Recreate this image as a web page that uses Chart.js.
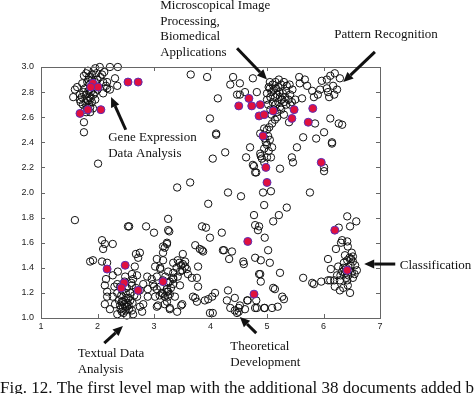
<!DOCTYPE html>
<html>
<head>
<meta charset="utf-8">
<script src="https://cdn.jsdelivr.net/npm/chart.js@4/dist/chart.umd.min.js"></script>
<style>
  html, body { margin: 0; padding: 0; background: #fff; }
  canvas { display: block; }
</style>
</head>
<body>
<canvas id="map" width="474" height="394"></canvas>
<script>
// documents of the first level map as [x, y]
const geneDocs = [
  [1.69,2.78],[1.76,2.93],[1.83,2.97],[1.96,2.99],[2.04,3.00],[2.22,3.00],[2.36,3.00],[2.31,2.91],
  [2.35,2.85],[2.22,2.82],[2.10,2.79],[1.96,2.74],[1.87,2.68],[1.78,2.66],[1.76,2.56],[1.76,2.48],
  [2.01,2.23],[1.57,2.76],[1.60,2.82],[1.64,2.84],[1.73,2.87],[2.17,2.88],[2.08,2.94],[2.17,2.83],
  [1.74,2.70],[1.69,2.74],
  [1.80,2.95],[1.85,2.92],[1.90,2.94],[1.93,2.97],[1.98,2.95],[1.82,2.88],[1.86,2.86],[1.78,2.83],
  [1.84,2.81],[1.80,2.78],[1.86,2.76],[1.83,2.73],[1.79,2.71],[1.85,2.70],[1.90,2.72],[1.88,2.80],
  [1.92,2.84],[1.95,2.88],[1.90,2.90],[1.75,2.80],[1.72,2.76],[1.82,2.68],[1.87,2.64],[1.80,2.64],
  [1.93,2.78],[2.00,2.90],[2.05,2.92],[2.12,2.96],[2.15,2.85],[2.10,2.88],[2.00,2.82],[1.96,2.80],
  [1.70,2.72],[1.92,2.67],[1.84,2.90],[1.88,2.75],[1.81,2.74],[1.86,2.82]
];
const imageDocs = [
  [4.75,2.91],[5.21,2.90],[5.57,2.92],[5.67,2.90],[5.58,2.87],[5.05,2.83],[5.00,2.79],[5.14,2.76],
  [5.23,2.76],[5.30,2.72],[5.41,2.78],[5.41,2.70],[5.23,2.68],[5.30,2.62],[5.18,2.60],[5.39,2.56],
  [5.09,2.55],[5.04,2.52],[5.34,2.81],[5.16,2.83],[5.50,2.74],[5.62,2.75],[5.71,2.85],[5.80,2.81],
  [4.52,2.87],[4.61,2.80],[4.82,2.80],[4.40,2.92],[4.35,2.86],[4.47,2.78],[4.52,2.78],[4.13,2.75],
  [3.65,2.94],[3.94,2.92],[3.99,2.59],[4.10,2.47],[4.10,2.46],
  [5.05,2.88],[5.10,2.86],[5.15,2.88],[5.20,2.84],[5.25,2.86],[5.30,2.88],[5.35,2.85],[5.08,2.80],
  [5.12,2.82],[5.18,2.78],[5.22,2.80],[5.28,2.79],[5.32,2.76],[5.38,2.74],[5.06,2.76],[5.10,2.72],
  [5.15,2.70],[5.20,2.72],[5.26,2.74],[5.34,2.70],[5.12,2.66],[5.18,2.64],[5.25,2.66],[5.08,2.62],
  [5.14,2.58],[5.45,2.82],[5.40,2.86],[5.03,2.84],[5.02,2.70],[5.06,2.66],[5.44,2.72],[5.00,2.74],
  [5.00,2.50],[4.95,2.51],[4.88,2.47],[4.96,2.43],[5.05,2.42],[5.00,2.38],[5.09,2.36],[4.95,2.35],
  [4.88,2.31],[5.00,2.28],[4.91,2.27],[4.95,2.24],[4.75,2.22],[4.79,2.16],[4.63,2.28],[4.70,2.36],
  [4.89,2.29],[5.07,2.28],[5.23,2.19],[5.44,2.28],[5.46,2.24],[5.53,2.36],[4.77,2.21],[4.81,2.16],
  [5.02,2.45],[4.98,2.40],[5.03,2.33]
];
const patternDocs = [
  [6.20,2.95],[6.12,2.93],[6.06,2.90],[5.97,2.89],[6.24,2.82],[6.19,2.78],[6.10,2.76],[6.06,2.83],
  [5.83,2.76],[5.94,2.82],[6.12,2.59],[6.27,2.55],[6.33,2.54],[5.85,2.55],[6.01,2.48],[5.87,2.43],
  [5.64,2.44],[6.15,2.40],[6.15,2.39],[6.01,2.20],[6.01,2.17],[5.76,2.00],[5.90,2.78],[6.17,2.85],
  [6.08,2.80],[6.29,2.91]
];
const middleDocs = [
  [4.04,2.27],[4.26,2.32],[3.41,2.04],[3.64,2.08],[4.31,2.00],[4.54,1.97],[4.93,2.00],[5.07,2.01],
  [3.96,1.91],[4.77,1.82],[5.11,1.77],[5.21,1.82],[5.35,1.88],[4.95,1.90],[1.60,1.78],[3.25,1.79],
  [2.56,1.73],[2.86,1.73],[3.25,1.70],[3.85,1.73],[3.92,1.72],[4.86,1.73],[3.99,1.64],[4.20,1.68],
  [4.96,1.64],[5.02,1.54],[4.79,1.74],[3.00,1.68],[3.27,1.69],[4.84,1.70],[4.79,1.48],[4.89,1.46],
  [5.05,1.44],[4.59,1.43],[4.88,1.35],[4.89,1.29],[5.23,1.36],[5.14,1.23],[5.27,1.17],[5.30,1.15],
  [4.81,1.14],[4.66,1.14],[4.82,1.08],[4.95,1.08],[5.19,1.09],[4.50,1.08],[4.50,1.05],[4.61,1.07],
  [3.51,1.51],[3.73,1.58],[3.85,1.54],[3.87,1.53],[4.22,1.54],[4.38,1.53],[4.33,1.47],[4.58,1.45],
  [4.86,1.35],[3.78,1.41],[3.67,1.32],[3.76,1.32],[3.78,1.25],[3.73,1.16],[3.76,1.13],[3.90,1.14],
  [3.96,1.15],[4.03,1.17],[4.08,1.20],[4.04,1.04],[4.31,1.22],[4.29,1.14],[4.43,1.16],[4.35,1.08],
  [4.43,1.06],[4.47,1.04],[4.65,1.14],[4.79,1.08],[4.96,1.08],[5.09,1.08],[4.52,1.10],[5.11,1.24],
  [3.69,1.17],[3.99,1.04],[4.24,1.54]
];
const textDocs = [
  [2.08,1.62],[2.13,1.59],[2.10,1.55],[2.27,1.59],[1.87,1.45],[1.92,1.46],[2.08,1.45],[2.17,1.44],
  [2.54,1.73],[3.16,1.57],[3.16,1.52],[3.23,1.59],[3.34,1.44],[3.34,1.36],[3.55,1.41],[3.60,1.35],
  [3.81,1.55],[2.68,1.51],[2.72,1.48],[2.75,1.52],[2.66,1.41],[2.61,1.35],[3.05,1.47],[3.02,1.41],
  [3.11,1.39],[3.16,1.46],[2.88,1.33],[2.96,1.31],[3.05,1.33],[3.25,1.37],[3.34,1.31],[3.34,1.27],
  [3.42,1.33],[3.46,1.37],[3.51,1.43],[3.58,1.39],[3.16,1.19],[3.23,1.21],[3.25,1.17],[3.19,1.11],
  [3.28,1.07],[3.41,1.05],[3.50,1.11],[3.07,1.10],[3.02,1.17],[2.89,1.17],[2.81,1.11],[2.79,1.05],
  [2.63,1.03],[2.52,1.02],[2.43,1.05],[2.35,1.03],[2.22,1.07],[2.13,1.11],[2.17,1.17],[2.17,1.21],
  [2.13,1.26],[2.15,1.31],[2.27,1.34],[2.35,1.27],[2.27,1.17],[2.31,1.11],[2.45,1.13],[2.58,1.14],
  [2.70,1.17],[2.75,1.22],[2.81,1.27],[2.61,1.26],[2.63,1.31],[2.49,1.33],[2.36,1.37],[2.70,1.34],
  [2.52,1.09],[2.61,1.06],[2.75,1.09],[2.89,1.23],[2.98,1.27],[3.11,1.25],[3.23,1.23],[3.16,1.30],
  [3.28,1.19],[3.37,1.17],[3.46,1.26],
  [2.40,1.10],[2.45,1.08],[2.50,1.06],[2.55,1.10],[2.48,1.14],[2.42,1.18],[2.50,1.20],[2.55,1.16],
  [2.38,1.14],[2.44,1.22],[2.52,1.24],[2.58,1.20],[2.46,1.04],[2.53,1.12],[2.40,1.25],[2.60,1.28],
  [2.35,1.20],[2.65,1.18],[2.62,1.12],[2.30,1.25],[2.48,1.29],[2.68,1.24],[2.47,1.11],[2.51,1.16],
  [2.43,1.13],[2.56,1.07],[2.49,1.09],[2.41,1.07],
  [3.40,1.40],[3.45,1.44],[3.48,1.42],[3.50,1.38],[3.42,1.46],[3.55,1.45],[3.30,1.24],[3.25,1.28],
  [3.20,1.33],[3.05,1.23],[3.10,1.18],[3.00,1.25],
  [3.23,1.60],[3.19,1.56],[3.11,1.40],[3.14,1.20],[3.19,1.17],[3.25,1.21],[3.23,1.13],[3.28,1.08],
  [3.48,1.10],[3.05,1.09],[3.34,1.32],[3.28,1.29]
];
const classDocs = [
  [6.42,1.81],[6.58,1.77],[6.47,1.73],[6.27,1.72],[6.33,1.62],[6.31,1.60],[6.42,1.61],[6.43,1.57],
  [6.22,1.55],[6.50,1.52],[6.52,1.49],[6.49,1.47],[6.08,1.47],[6.56,1.42],[6.59,1.38],[6.13,1.39],
  [6.26,1.41],[6.33,1.37],[6.24,1.34],[6.12,1.30],[6.19,1.30],[6.29,1.30],[6.42,1.30],[6.52,1.32],
  [6.20,1.25],[6.35,1.24],[6.43,1.26],[6.47,1.20],[6.29,1.22],[5.64,1.32],[5.80,1.28],[5.83,1.27],
  [5.96,1.29],[6.08,1.30],
  [6.40,1.40],[6.45,1.38],[6.38,1.36],[6.48,1.42],[6.36,1.44],[6.44,1.34],[6.50,1.36],[6.42,1.46],
  [6.35,1.40],[6.46,1.48],[6.30,1.34],[6.55,1.35],[6.40,1.32],[6.52,1.45],[6.38,1.50]
];
// the added documents (filled red)
const addedDocs = [
  [1.69,2.63],[1.83,2.66],[2.06,2.66],[2.54,2.88],[2.72,2.88],[1.92,2.87],[2.01,2.84],[1.88,2.84],
  [4.50,2.69],[4.68,2.75],[4.73,2.69],[4.88,2.70],[4.86,2.61],[4.95,2.62],[5.11,2.65],[5.48,2.66],
  [5.44,2.59],[5.81,2.67],[5.73,2.56],[4.93,2.45],[4.98,2.20],[5.00,2.08],[5.96,2.24],
  [2.17,1.39],[2.49,1.42],[2.47,1.28],[2.42,1.24],[2.72,1.22],[3.16,1.29],
  [4.66,1.61],[4.77,1.19],
  [6.20,1.70],[6.42,1.38]
];
const xTicks = [1, 2, 3, 4, 5, 6, 7];
const yTicks = [1, 1.2, 1.4, 1.6, 1.8, 2, 2.2, 2.4, 2.6, 2.8, 3];

// callouts, placed in data units
const callouts = [
  { lines: ['Microscopical Image', 'Processing,', 'Biomedical', 'Applications'], x: 3.11, y: 3.486, tail: [4.47, 3.15], head: [5.00, 2.90] },
  { lines: ['Pattern Recognition'], x: 6.19, y: 3.255, tail: [6.91, 3.12], head: [6.35, 2.88] },
  { lines: ['Gene Expression', 'Data Analysis'], x: 2.19, y: 2.434, tail: [2.50, 2.50], head: [2.24, 2.76] },
  { lines: ['Textual Data', 'Analysis'], x: 1.65, y: 0.713, tail: [2.12, 0.80], head: [2.45, 0.936] },
  { lines: ['Theoretical', 'Development'], x: 4.35, y: 0.769, tail: [4.81, 0.88], head: [4.52, 1.008] },
  { lines: ['Classification'], x: 7.35, y: 1.414, tail: [7.27, 1.43], head: [6.72, 1.43] }
];
const caption = 'Fig. 12. The first level map with the additional 38 documents added by';

const toPoints = arr => arr.map(p => ({ x: p[0], y: p[1] }));
const openDocs = [].concat(geneDocs, imageDocs, patternDocs, middleDocs, textDocs, classDocs);
const tickFont = { family: '"Liberation Sans Narrow", "Liberation Sans", Arial', size: 9 };

const framePlugin = {
  id: 'frame',
  afterDatasetsDraw(chart) {
    const { ctx, chartArea: a, scales: { x, y } } = chart;
    ctx.save();
    ctx.strokeStyle = '#666';
    ctx.lineWidth = 1;
    ctx.strokeRect(a.left + 0.5, a.top + 0.5, a.right - a.left, a.bottom - a.top);
    ctx.beginPath();
    xTicks.forEach(v => {
      const px = Math.round(x.getPixelForValue(v)) + 0.5;
      ctx.moveTo(px, a.bottom); ctx.lineTo(px, a.bottom - 4);
      ctx.moveTo(px, a.top); ctx.lineTo(px, a.top + 4);
    });
    yTicks.forEach(v => {
      const py = Math.round(y.getPixelForValue(v)) + 0.5;
      ctx.moveTo(a.left, py); ctx.lineTo(a.left + 4, py);
      ctx.moveTo(a.right, py); ctx.lineTo(a.right - 4, py);
    });
    ctx.stroke();
    ctx.restore();
  },
  afterDraw(chart) {
    const { ctx, scales: { x, y } } = chart;
    ctx.save();
    ctx.fillStyle = '#111';
    ctx.strokeStyle = '#111';
    ctx.font = '13px "Liberation Serif", "Times New Roman", serif';
    ctx.textBaseline = 'middle';
    ctx.textAlign = 'left';
    callouts.forEach(c => {
      const tx = x.getPixelForValue(c.x), ty = y.getPixelForValue(c.y);
      c.lines.forEach((t, i) => ctx.fillText(t, tx, ty + i * 15.5));
      const x0 = x.getPixelForValue(c.tail[0]), y0 = y.getPixelForValue(c.tail[1]);
      const x1 = x.getPixelForValue(c.head[0]), y1 = y.getPixelForValue(c.head[1]);
      const ang = Math.atan2(y1 - y0, x1 - x0);
      const len = 10, half = 4.5;
      const bx = x1 - len * Math.cos(ang), by = y1 - len * Math.sin(ang);
      ctx.lineWidth = 3;
      ctx.beginPath(); ctx.moveTo(x0, y0); ctx.lineTo(bx, by); ctx.stroke();
      ctx.beginPath();
      ctx.moveTo(x1, y1);
      ctx.lineTo(bx + half * Math.sin(ang), by - half * Math.cos(ang));
      ctx.lineTo(bx - half * Math.sin(ang), by + half * Math.cos(ang));
      ctx.closePath(); ctx.fill();
    });
    ctx.font = '17px "Liberation Serif", "Times New Roman", serif';
    ctx.textBaseline = 'alphabetic';
    ctx.fillText(caption, 0, 393);
    ctx.restore();
  }
};

new Chart(document.getElementById('map'), {
  type: 'scatter',
  data: {
    datasets: [
      {
        label: 'added',
        data: toPoints(addedDocs),
        pointRadius: 4,
        backgroundColor: '#e0103f',
        borderColor: '#5b2fb5',
        borderWidth: 1,
        clip: false
      },
      {
        label: 'documents',
        data: toPoints(openDocs),
        pointRadius: 3.7,
        backgroundColor: 'rgba(0,0,0,0)',
        borderColor: '#111',
        borderWidth: 1,
        clip: false
      }
    ]
  },
  options: {
    responsive: false,
    animation: false,
    devicePixelRatio: 1,
    layout: { padding: { left: 0, top: 67, right: 94, bottom: 0 } },
    plugins: { legend: { display: false }, tooltip: { enabled: false } },
    scales: {
      x: {
        type: 'linear', min: 1, max: 7,
        afterFit: s => { s.height = 76; },
        afterBuildTicks: s => { s.ticks = xTicks.map(v => ({ value: v })); },
        grid: { display: false, drawTicks: false },
        border: { display: false },
        ticks: { padding: 3, color: '#222', font: tickFont }
      },
      y: {
        type: 'linear', min: 1, max: 3,
        afterFit: s => { s.width = 41; },
        afterBuildTicks: s => { s.ticks = yTicks.map(v => ({ value: v })); },
        grid: { display: false, drawTicks: false },
        border: { display: false },
        ticks: { padding: 7, color: '#222', font: tickFont }
      }
    }
  },
  plugins: [framePlugin]
});
</script>
</body>
</html>
